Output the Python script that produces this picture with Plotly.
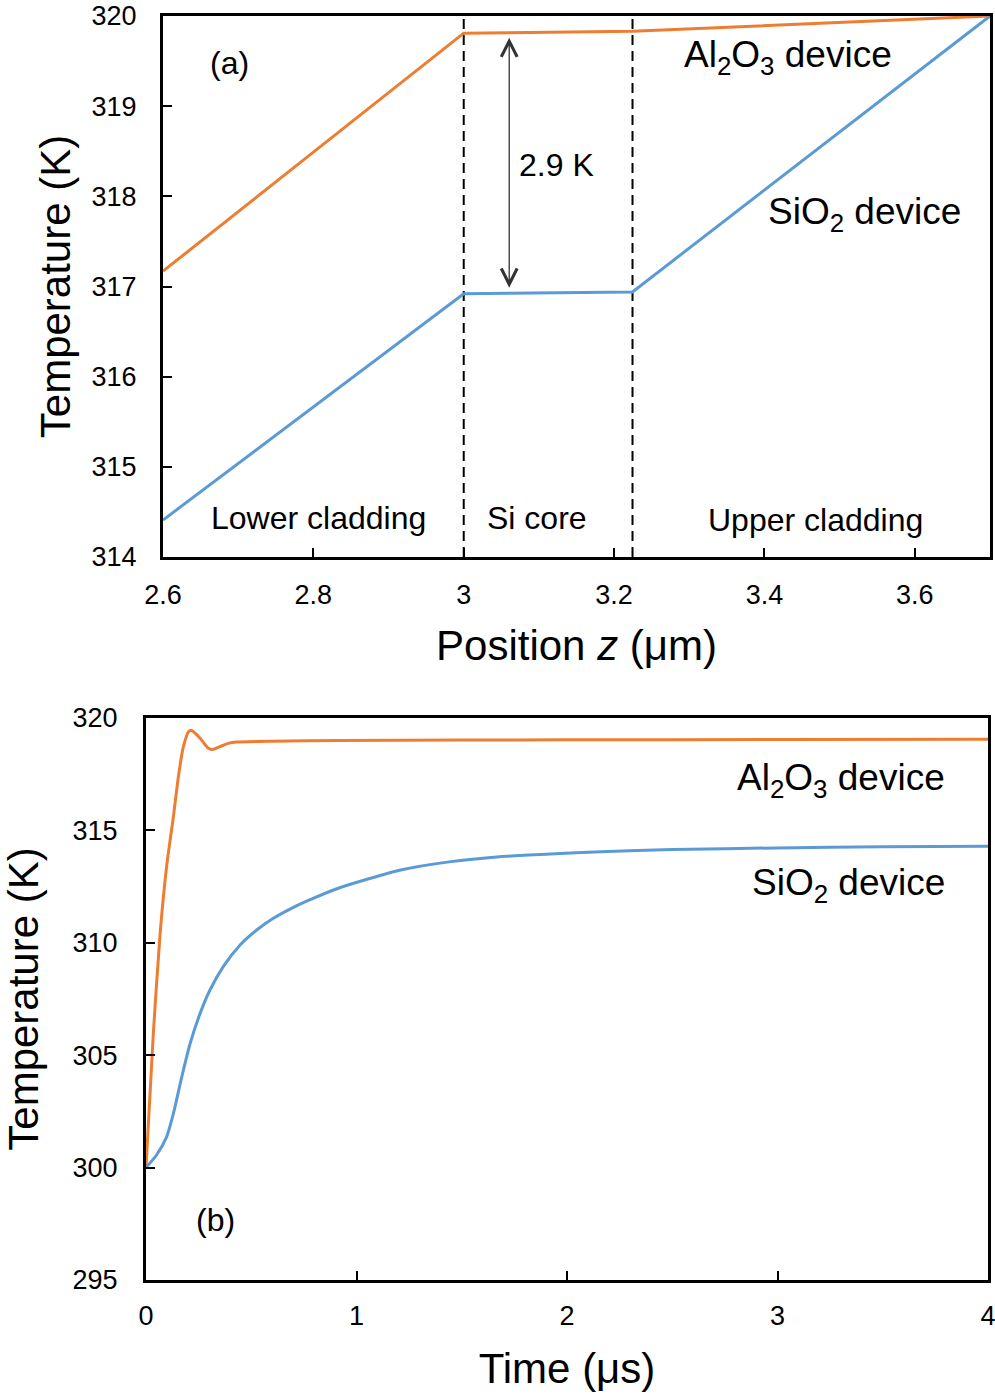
import plotly.graph_objects as go

# ---------------- data: panel (a) -----------------
z_pos = [2.6, 3.0, 3.2245, 3.7]
T_al2o3_z = [317.17, 319.81, 319.83, 320.0]
T_sio2_z = [314.41, 316.92, 316.94, 320.0]
region_bounds = [3.0, 3.2245]
xticks_a = [2.6, 2.8, 3.0, 3.2, 3.4, 3.6]
xticklabels_a = ["2.6", "2.8", "3", "3.2", "3.4", "3.6"]
yticks_a = [314, 315, 316, 317, 318, 319, 320]

# ---------------- data: panel (b) -----------------
t_al2o3 = [0.0, 0.035, 0.067, 0.098, 0.13, 0.154, 0.177, 0.203, 0.217, 0.257,
           0.296, 0.315, 0.352, 0.391, 0.43, 0.6, 0.92, 1.5, 2.0, 3.0, 4.0]
T_al2o3_t = [300.0, 306.0, 310.4, 313.4, 315.6, 317.4, 318.7, 319.4, 319.44, 319.1,
             318.65, 318.6, 318.73, 318.87, 318.93, 318.97, 319.0, 319.02, 319.03, 319.04, 319.05]
t_sio2 = [0.0, 0.05, 0.098, 0.13, 0.17, 0.209, 0.257, 0.304, 0.367, 0.447, 0.526,
          0.605, 0.684, 0.763, 0.92, 1.21, 1.44, 1.68, 1.92, 2.16, 2.5, 3.0, 3.5, 4.0]
T_sio2_t = [300.0, 300.56, 301.37, 302.4, 304.04, 305.5, 306.86, 307.9, 308.94, 309.9, 310.57,
            311.09, 311.5, 311.85, 312.45, 313.24, 313.6, 313.83, 313.95, 314.05, 314.15, 314.22, 314.27, 314.3]
xticks_b = [0, 1, 2, 3, 4]
yticks_b = [295, 300, 305, 310, 315, 320]

ORANGE = "#ED7D31"
BLUE = "#5B9BD5"
FONT = "Arial, Liberation Sans, sans-serif"

fig = go.Figure()

# panel (a)
for b in region_bounds:
    fig.add_trace(go.Scatter(x=[b, b], y=[yticks_a[0], yticks_a[-1]], mode="lines",
                             line=dict(color="black", width=2, dash="10px,6px"),
                             xaxis="x", yaxis="y", showlegend=False, hoverinfo="skip"))
fig.add_trace(go.Scatter(x=z_pos, y=T_al2o3_z, mode="lines", line=dict(color=ORANGE, width=3),
                         xaxis="x", yaxis="y", showlegend=False))
fig.add_trace(go.Scatter(x=z_pos, y=T_sio2_z, mode="lines", line=dict(color=BLUE, width=3),
                         xaxis="x", yaxis="y", showlegend=False))

# panel (b)
fig.add_trace(go.Scatter(x=t_al2o3, y=T_al2o3_t, mode="lines",
                         line=dict(color=ORANGE, width=3, shape="spline", smoothing=0.6),
                         xaxis="x2", yaxis="y2", showlegend=False))
fig.add_trace(go.Scatter(x=t_sio2, y=T_sio2_t, mode="lines",
                         line=dict(color=BLUE, width=3, shape="spline", smoothing=0.6),
                         xaxis="x2", yaxis="y2", showlegend=False))

axis_common = dict(showgrid=False, zeroline=False, showline=True, linecolor="black", linewidth=3,
                   mirror=True, ticks="inside", ticklen=9, tickwidth=2, tickcolor="black",
                   automargin=False, ticklabeloverflow="allow",
                   tickfont=dict(family=FONT, size=27, color="black"))

fig.update_layout(
    width=995, height=1396,
    margin=dict(l=0, r=0, t=0, b=0),
    paper_bgcolor="white", plot_bgcolor="white",
    font=dict(family=FONT, color="black"),
    xaxis=dict(domain=[163 / 995, 990 / 995], range=[2.6, 3.7], tickvals=xticks_a,
               ticktext=xticklabels_a, anchor="y", ticklabelstandoff=12,
               title=dict(text="Position <i>z</i> (μm)", font=dict(size=42, family=FONT), standoff=22),
               **axis_common),
    yaxis=dict(domain=[1 - 557 / 1396, 1 - 16 / 1396], range=[314, 320], tickvals=yticks_a,
               anchor="x", ticklabelstandoff=18,
               title=dict(text="Temperature (K)", font=dict(size=42, family=FONT), standoff=8),
               **axis_common),
    xaxis2=dict(domain=[146 / 995, 988 / 995], range=[0, 4], tickvals=xticks_b, anchor="y2",
                ticklabelstandoff=10,
                title=dict(text="Time (μs)", font=dict(size=42, family=FONT), standoff=24),
                **axis_common),
    yaxis2=dict(domain=[1 - 1280 / 1396, 1 - 718 / 1396], range=[295, 320], tickvals=yticks_b,
                anchor="x2", ticklabelstandoff=20,
                title=dict(text="Temperature (K)", font=dict(size=42, family=FONT), standoff=30),
                **axis_common),
)

def note(text, x, y, xref, yref, size, xanchor="center"):
    fig.add_annotation(text=text, x=x, y=y, xref=xref, yref=yref, showarrow=False,
                       xanchor=xanchor, yanchor="middle",
                       font=dict(family=FONT, size=size, color="black"))

# panel (a) annotations
note("(a)", 2.689, 319.48, "x", "y", 32)
note("Al<sub>2</sub>O<sub>3</sub> device", 3.431, 319.54, "x", "y", 37)
note("SiO<sub>2</sub> device", 3.533, 317.8, "x", "y", 37)
note("2.9 K", 3.124, 318.35, "x", "y", 32)
note("Lower cladding", 2.807, 314.43, "x", "y", 32)
note("Si core", 3.097, 314.43, "x", "y", 32)
note("Upper cladding", 3.468, 314.41, "x", "y", 32)
fig.add_annotation(x=3.0605, y=319.76, ax=3.0605, ay=316.97, xref="x", yref="y",
                   axref="x", ayref="y", text="", showarrow=True, arrowside="end+start",
                   arrowhead=5, arrowsize=2.4, arrowwidth=1.3, arrowcolor="#333333")

# panel (b) annotations
note("Al<sub>2</sub>O<sub>3</sub> device", 3.805, 317.24, "x2", "y2", 37, xanchor="right")
note("SiO<sub>2</sub> device", 3.805, 312.57, "x2", "y2", 37, xanchor="right")
note("(b)", 0.328, 297.67, "x2", "y2", 32)

fig.write_html("out.html")
